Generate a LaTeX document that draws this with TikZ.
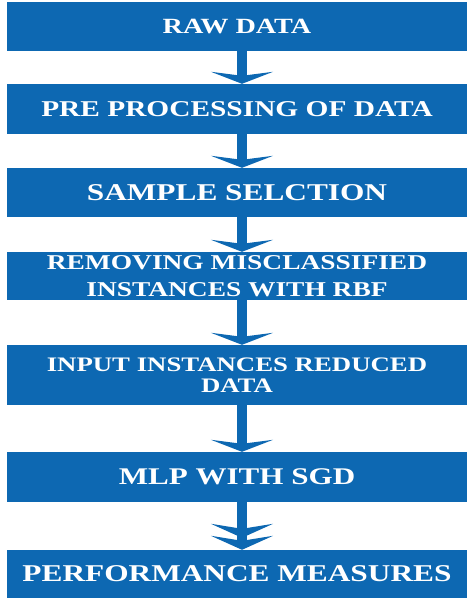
\documentclass[tikz,border=0pt]{standalone}
\usepackage{fontspec}
\usepackage{tikz}
\usetikzlibrary{arrows.meta}
\newfontfamily\stagefont{Liberation Serif}[FakeStretch=1.3]
\definecolor{flowblue}{RGB}{13,104,178}

\tikzset{
  stage/.style 2 args={fill=flowblue,text=white,minimum width=460pt,minimum height=#1,
    inner sep=0pt,align=center,font=\stagefont\bfseries\fontsize{#2}{24}\selectfont},
  flow/.style={flowblue,line width=10pt,-{Stealth[length=12pt,width=62pt,inset=4pt]}},
  flowtwo/.style={flowblue,line width=10pt,
    -{Stealth[length=14pt,width=62pt,inset=5pt,sep=-2pt]Stealth[length=14pt,width=62pt,inset=5pt]}},
}

\begin{document}
\begin{tikzpicture}[x=1pt,y=-1pt]
  \useasboundingbox (0,0) rectangle (474,609);
  % stages, top to bottom
  \node[stage={49pt}{21.7}] (raw)    at (237,26.5)  {RAW DATA};
  \node[stage={50pt}{22.6}] (pre)    at (237,109)   {PRE PROCESSING OF DATA};
  \node[stage={49pt}{24.1}] (sample) at (237,192.5) {SAMPLE SELCTION};
  \node[stage={48pt}{21.1}] (remove) at (237,276)   {REMOVING MISCLASSIFIED\\[3pt]INSTANCES WITH RBF};
  \node[stage={60pt}{20.6}] (input)  at (237,375)   {INPUT INSTANCES REDUCED\\[-3pt]DATA};
  \node[stage={50pt}{23.9}] (mlp)    at (237,477)   {MLP WITH SGD};
  \node[stage={48pt}{24.1}] (perf)   at (237,574)   {PERFORMANCE MEASURES};
  % connectors, a little right of the box centres
  \draw[flow]    ([xshift=5pt]raw.south)    -- ([xshift=5pt]pre.north);
  \draw[flow]    ([xshift=5pt]pre.south)    -- ([xshift=5pt]sample.north);
  \draw[flow]    ([xshift=5pt]sample.south) -- ([xshift=5pt]remove.north);
  \draw[flow]    ([xshift=5pt]remove.south) -- ([xshift=5pt]input.north);
  \draw[flow]    ([xshift=5pt]input.south)  -- ([xshift=5pt]mlp.north);
  \draw[flowtwo] ([xshift=5pt]mlp.south)    -- ([xshift=5pt]perf.north);
\end{tikzpicture}
\end{document}
